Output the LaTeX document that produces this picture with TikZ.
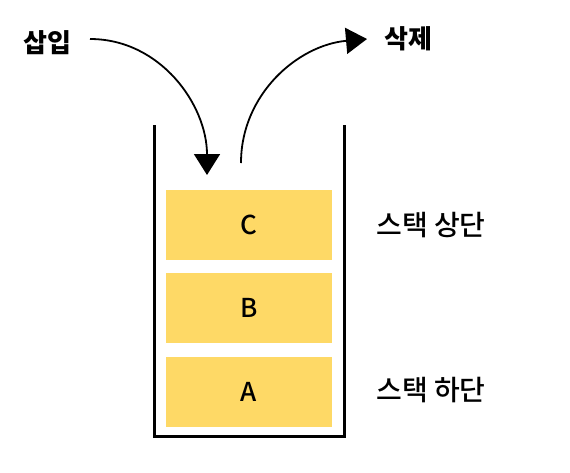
\documentclass[tikz,border=0pt]{standalone}
\usepackage{fontspec}
\setmainfont{Noto Sans CJK KR}
\newfontfamily\medfont{Noto Sans CJK KR Medium}
\usepackage{tikz}
\usetikzlibrary{positioning, arrows.meta}
\definecolor{stackyellow}{HTML}{FED966}
\tikzstyle{item} = [fill=stackyellow, minimum width=166pt, minimum height=70pt, inner sep=0pt, font=\medfont\fontsize{26}{28}\selectfont]
\tikzstyle{label} = [font=\fontsize{26}{28}\selectfont\bfseries]
\tikzstyle{side} = [font=\medfont\fontsize{28}{30}\selectfont]
\tikzstyle{flow} = [line width=1.8pt, -{Triangle[length=21pt, width=26pt]}]

\begin{document}
\begin{tikzpicture}[x=1pt, y=-1pt, node distance=13pt]
			\useasboundingbox (0,0) rectangle (570,472);
			\node[item]                        (c)   at (249,225) {C};
			\node[item, below=of c]            (b)   {B};
			\node[item, below=of b]            (a)   {A};
			\node[label]                       (insert) at (47,43) {삽입};
			\node[label]                       (delete) at (408,39) {삭제};
			\node[side]                        (top)    at (431,225) {스택 상단};
			\node[side]                        (bottom) at (431,390) {스택 하단};
			\coordinate (insert start) at (90,39);
			\coordinate (insert end)   at (207,175);
			\coordinate (delete start) at (241,163);
			\coordinate (delete end)   at (367,39);
			
			\draw[line width=3pt] (154,125) -- (154,436) -- (344,436) -- (344,125);
			\draw[flow] (insert start) to[out=0, in=90] (insert end);
			\draw[flow] (delete start) to[out=90, in=185] (delete end);
			
		\end{tikzpicture}
\end{document}
